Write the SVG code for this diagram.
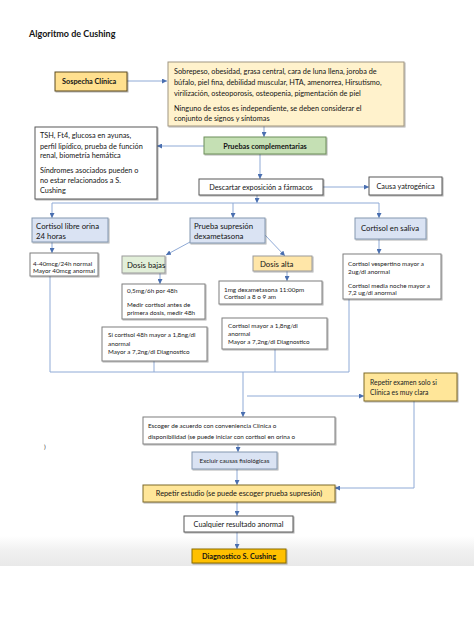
<svg xmlns="http://www.w3.org/2000/svg" width="474" height="632" viewBox="0 0 474 632">
<defs>
<linearGradient id="band" x1="0" y1="0" x2="0" y2="1">
<stop offset="0" stop-color="#ffffff"/>
<stop offset="0.5" stop-color="#f0f0f0"/>
<stop offset="1" stop-color="#e9e9e9"/>
</linearGradient>
<filter id="sh" x="-10%" y="-10%" width="130%" height="140%">
<feDropShadow dx="1" dy="1" stdDeviation="0.6" flood-color="#000" flood-opacity="0.3"/>
</filter>
<marker id="ah" markerUnits="userSpaceOnUse" markerWidth="5" markerHeight="5" refX="5" refY="2.5" orient="auto">
<path d="M0,0 L5,2.5 L0,5 z" fill="#4a6fb0"/>
</marker>
</defs>
<style>
text{font-family:Lato,"Liberation Sans",sans-serif;fill:#141414}
.t{font-size:7.3px}
.s{font-size:6.3px;fill:#222}
.m{font-size:7.8px}
.b{font-weight:bold}
.c{text-anchor:middle}
.w{fill:#fff;stroke:#595959;stroke-width:1}
.ws{fill:#fff;stroke:#7f7f7f;stroke-width:1}
.blue{fill:#dae3f3;stroke:#8497b0;stroke-width:1}
.yel{fill:#ffe699;stroke:#7f6a2a;stroke-width:1}
.cream{fill:#fff2cc;stroke:#a09682;stroke-width:1}
.grn{fill:#c5e0b4;stroke:#6d8e5a;stroke-width:1}
.lgrn{fill:#e2efd9;stroke:#9a9a9a;stroke-width:1}
.lor{fill:#ffe6a8;stroke:#9a9a9a;stroke-width:1}
.gold{fill:#ffc000;stroke:#8a6d00;stroke-width:1}
#connectors path{fill:none;stroke:#8faad6;stroke-width:1}
</style>
<rect x="0" y="0" width="474" height="632" fill="#fff"/>
<rect x="0" y="536" width="474" height="30" fill="url(#band)"/>
<text x="29" y="37" class="b" style="font-size:9px">Algoritmo de Cushing</text>

<g id="connectors">
<path d="M127,81 H167" marker-end="url(#ah)"/>
<path d="M264,126 V137" marker-end="url(#ah)"/>
<path d="M204,146 H157" marker-end="url(#ah)"/>
<path d="M260,154 V179" marker-end="url(#ah)"/>
<path d="M323,187 H369" marker-end="url(#ah)"/>
<path d="M257,195 V203" marker-end="url(#ah)"/>
<path d="M52,203 H379"/>
<path d="M52,203 V218" marker-end="url(#ah)"/>
<path d="M233,203 V218" marker-end="url(#ah)"/>
<path d="M379,203 V218" marker-end="url(#ah)"/>
<path d="M52,242 V253" marker-end="url(#ah)"/>
<path d="M190,242 L166,255" marker-end="url(#ah)"/>
<path d="M264,234 L285,256" marker-end="url(#ah)"/>
<path d="M160,273 V284" marker-end="url(#ah)"/>
<path d="M287,271 V281" marker-end="url(#ah)"/>
<path d="M379,239 V254" marker-end="url(#ah)"/>
<path d="M50,276 V372 H349 V299"/>
<path d="M154,361 V372"/>
<path d="M275,349 V372"/>
<path d="M243,372 V417" marker-end="url(#ah)"/>
<path d="M247,396 H364" marker-end="url(#ah)"/>
<path d="M414,401 V488 H335" marker-end="url(#ah)"/>
<path d="M238,444 V452" marker-end="url(#ah)"/>
<path d="M237,469 V485" marker-end="url(#ah)"/>
<path d="M237,502 V516" marker-end="url(#ah)"/>
<path d="M237,532 V549" marker-end="url(#ah)"/>
</g>

<g id="sospecha"><rect x="55" y="72" width="72" height="19" fill="#ffe08f" stroke="#5c4b1e" filter="url(#sh)"/><text x="62" y="84" class="t b">Sospecha Clínica</text></g>

<g id="sintomas"><rect x="168" y="62" width="236" height="64" class="cream" filter="url(#sh)"/>
<text x="174" y="73.5" class="t">Sobrepeso, obesidad, grasa central, cara de luna llena, joroba de</text>
<text x="174" y="85" class="t">búfalo, piel fina, debilidad muscular, HTA, amenorrea, Hirsutismo,</text>
<text x="174" y="96" class="t">virilización, osteoporosis, osteopenia, pigmentación de piel</text>
<text x="174" y="111" class="t">Ninguno de estos es independiente, se deben considerar el</text>
<text x="174" y="121" class="t">conjunto de signos y síntomas</text></g>

<g id="pruebas"><rect x="204" y="137" width="122" height="17" class="grn" filter="url(#sh)"/><text x="265" y="148.5" class="t b c">Pruebas complementarias</text></g>

<g id="tsh"><rect x="35" y="127" width="122" height="72" class="w" filter="url(#sh)"/>
<text x="40" y="137.5" class="t">TSH, Ft4, glucosa en ayunas,</text>
<text x="40" y="148.5" class="t">perfil lipídico, prueba de función</text>
<text x="40" y="157.5" class="t">renal, biometría hemática</text>
<text x="40" y="172.5" class="t">Síndromes asociados pueden o</text>
<text x="40" y="182.5" class="t">no estar relacionados a S.</text>
<text x="40" y="193" class="t">Cushing</text></g>

<g id="descartar"><rect x="199" y="179" width="124" height="16" class="w" filter="url(#sh)"/><text x="261" y="190" class="t c">Descartar exposición a fármacos</text></g>

<g id="causa"><rect x="369" y="177" width="73" height="18" class="w" filter="url(#sh)"/><text x="405.5" y="189" class="t c">Causa yatrogénica</text></g>

<g id="orina"><rect x="32" y="218" width="76" height="24" class="blue" filter="url(#sh)"/>
<text x="36" y="228.5" class="m">Cortisol libre orina</text><text x="36" y="238.5" class="m">24 horas</text></g>

<g id="orina-res"><rect x="30" y="253" width="68" height="23" class="ws" filter="url(#sh)"/>
<text x="33" y="265.5" class="s">4-40mcg/24h normal</text><text x="33" y="273" class="s">Mayor 40mcg anormal</text></g>

<g id="supresion"><rect x="190" y="218" width="75" height="25" class="blue" filter="url(#sh)"/>
<text x="194" y="229" class="m">Prueba supresión</text><text x="194" y="238.5" class="m">dexametasona</text></g>

<g id="dosis-bajas"><rect x="122" y="256" width="43" height="17" class="lgrn" filter="url(#sh)"/><text x="127" y="267.5" class="m">Dosis bajas</text></g>

<g id="dosis-alta"><rect x="253" y="256" width="59" height="15" class="lor" filter="url(#sh)"/><text x="260" y="266.5" class="m">Dosis alta</text></g>

<g id="bajas-res"><rect x="122" y="284" width="83" height="35" class="ws" filter="url(#sh)"/>
<text x="127" y="293" class="s">0,5mg/6h por 48h</text>
<text x="127" y="306.5" class="s">Medir cortisol antes de</text>
<text x="127" y="315" class="s">primera dosis, medir 48h</text></g>

<g id="alta-res"><rect x="219" y="281" width="103" height="23" class="ws" filter="url(#sh)"/>
<text x="224" y="291.5" class="s">1mg dexametasona 11:00pm</text>
<text x="224" y="299" class="s">Cortisol a 8 o 9 am</text></g>

<g id="saliva"><rect x="355" y="218" width="71" height="21" class="blue" filter="url(#sh)"/><text x="390" y="231" class="m c">Cortisol en saliva</text></g>

<g id="saliva-res"><rect x="343" y="254" width="98" height="45" class="ws" filter="url(#sh)"/>
<text x="348" y="265.5" class="s">Cortisol vespertino mayor a</text>
<text x="348" y="274" class="s">2ug/dl anormal</text>
<text x="348" y="287.5" class="s">Cortisol media noche mayor a</text>
<text x="348" y="295" class="s">7,2 ug/dl anormal</text></g>

<g id="bajas-diag"><rect x="102" y="327" width="105" height="34" class="ws" filter="url(#sh)"/>
<text x="108" y="336.5" class="s">Si cortisol 48h mayor a 1,8ng/dl</text>
<text x="108" y="345.5" class="s">anormal</text>
<text x="108" y="353.5" class="s">Mayor a 7,2ng/dl Diagnostico</text></g>

<g id="alta-diag"><rect x="222" y="318" width="105" height="31" class="ws" filter="url(#sh)"/>
<text x="228" y="327.5" class="s">Cortisol mayor a 1,8ng/dl</text>
<text x="228" y="336" class="s">anormal</text>
<text x="228" y="344" class="s">Mayor a 7,2ng/dl Diagnostico</text></g>

<g id="repetir-examen"><rect x="364" y="373" width="93" height="28" class="yel" filter="url(#sh)"/>
<text x="370" y="384.5" class="s" style="font-size:6.8px">Repetir examen solo si</text>
<text x="370" y="394.5" class="s" style="font-size:6.8px">Clínica es muy clara</text></g>

<g id="escoger"><rect x="143" y="417" width="192" height="27" class="ws" filter="url(#sh)"/>
<text x="148" y="427.5" class="s">Escoger de acuerdo con conveniencia Clínica o</text>
<text x="148" y="438.5" class="s">disponibilidad (se puede iniciar con cortisol en orina o</text></g>

<text x="44" y="449" class="s">)</text>

<g id="excluir"><rect x="192" y="452" width="85" height="17" class="blue" filter="url(#sh)"/><text x="234.5" y="463" class="s c">Excluir causas fisiológicas</text></g>

<g id="repetir-estudio"><rect x="143" y="485" width="192" height="17" class="yel" filter="url(#sh)"/><text x="239" y="496" class="t c">Repetir estudio (se puede escoger prueba supresión)</text></g>

<g id="cualquier"><rect x="184" y="516" width="109" height="16" class="w" filter="url(#sh)"/><text x="238.5" y="526.5" class="t c">Cualquier resultado anormal</text></g>

<g id="diagnostico"><rect x="192" y="549" width="94" height="14" class="gold" filter="url(#sh)"/><text x="239" y="559" class="t b c">Diagnostico S. Cushing</text></g>
</svg>
